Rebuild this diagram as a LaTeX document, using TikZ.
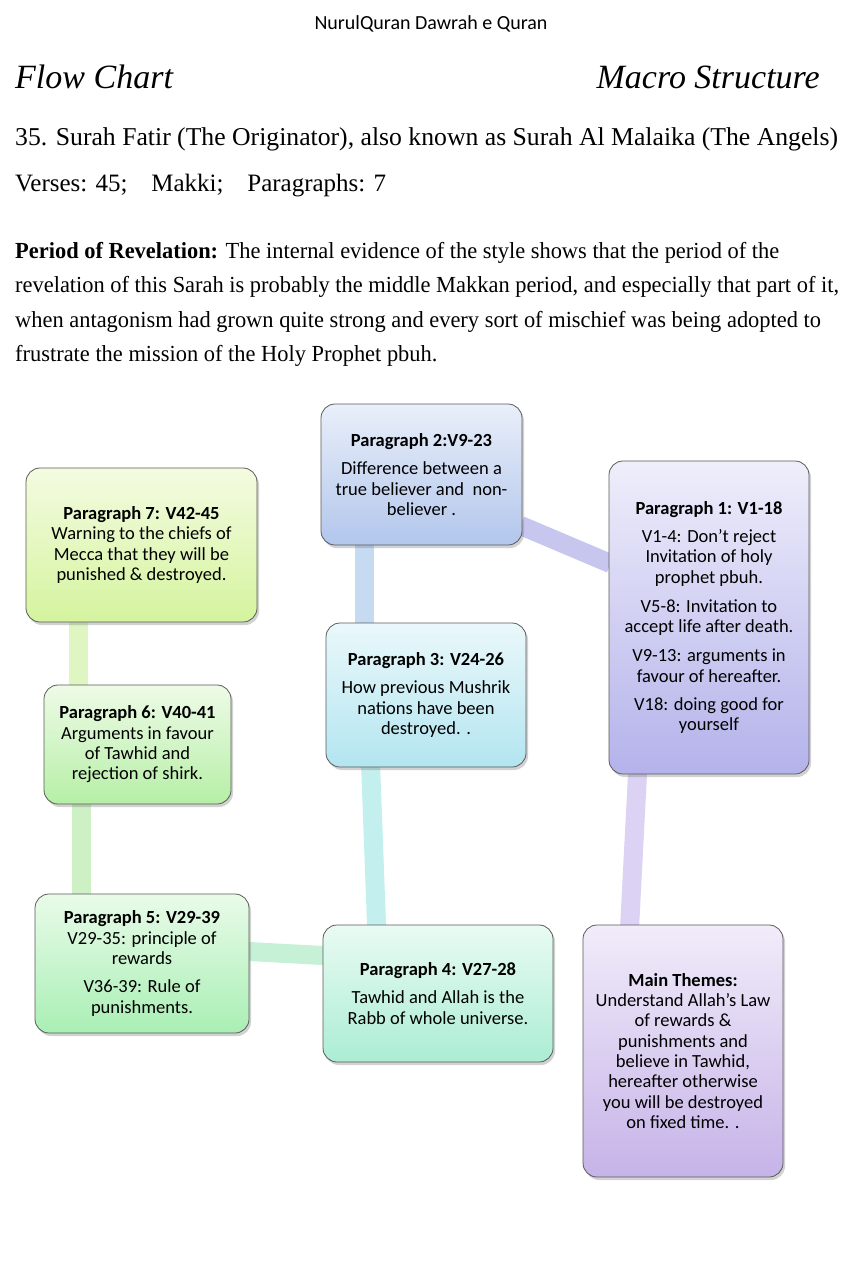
\documentclass[tikz,border=0pt]{standalone}
\usepackage{fontspec}
\setmainfont{Liberation Serif}
\newfontfamily\boxfont{Carlito}
\newfontfamily\headfont{Carlito}
\newfontfamily\bodyfont[FakeStretch=0.975]{Liberation Serif}
\usetikzlibrary{shadows,calc,backgrounds}
\pgfdeclarelayer{paper}
\pgfsetlayers{paper,background,main}
\definecolor{bordc}{HTML}{5A5A5A}
\definecolor{cAtop}{HTML}{EEEEFB}\definecolor{cAbot}{HTML}{B4B2EA}
\definecolor{cBtop}{HTML}{E9EFFA}\definecolor{cBbot}{HTML}{B2C6EC}
\definecolor{cCtop}{HTML}{EAF8FB}\definecolor{cCbot}{HTML}{B3E5F0}
\definecolor{cDtop}{HTML}{E9FBF3}\definecolor{cDbot}{HTML}{ABEDD4}
\definecolor{cEtop}{HTML}{E9FBE9}\definecolor{cEbot}{HTML}{A9EFB4}
\definecolor{cFtop}{HTML}{EEFBE7}\definecolor{cFbot}{HTML}{B6EFA6}
\definecolor{cGtop}{HTML}{F4FBE1}\definecolor{cGbot}{HTML}{D4F49E}
\definecolor{cMtop}{HTML}{F1ECFA}\definecolor{cMbot}{HTML}{C6B3E8}
\definecolor{lAB}{HTML}{C6C6EF}
\definecolor{lBC}{HTML}{C6DAF2}
\definecolor{lCD}{HTML}{C3F0EE}
\definecolor{lDE}{HTML}{C6F1D6}
\definecolor{lEF}{HTML}{CDF1C4}
\definecolor{lFG}{HTML}{DFF5C2}
\definecolor{lAM}{HTML}{DCD2F3}
\tikzset{
  pbox/.style={draw=bordc, line width=0.8pt, rounded corners=14pt,
    drop shadow={shadow xshift=2pt, shadow yshift=-3pt, opacity=0.35},
    align=center, inner sep=0pt,
    font=\boxfont\fontsize{18.5}{20.3}\selectfont},
  link/.style={line width=19pt, line cap=butt},
  hdr/.style={anchor=base west, inner sep=0pt}
}
\begin{document}
\begin{tikzpicture}[x=1pt,y=-1pt]
\useasboundingbox (0,0) rectangle (862,1262);
\begin{pgfonlayer}{paper}
\fill[white] (0,0) rectangle (862,1262);
\end{pgfonlayer}

% header texts
\node[anchor=base, inner sep=0pt, font=\headfont\fontsize{20}{24}\selectfont] (top) at (431,29) {NurulQuran Dawrah e Quran};
\node[hdr, font=\itshape\fontsize{34}{40}\selectfont] (fc) at (15,88) {Flow Chart};
\node[anchor=base east, inner sep=0pt, font=\itshape\fontsize{34}{40}\selectfont] (ms) at (820,88) {Macro Structure};
\node[hdr, font=\fontsize{25.7}{30}\selectfont] (title) at (15,145) {35. Surah Fatir (The Originator), also known as Surah Al Malaika (The Angels)};
\node[hdr, font=\fontsize{25}{30}\selectfont] (verses) at (15,191) {Verses: 45;\hspace{0.95em}Makki;\hspace{0.95em}Paragraphs: 7};
\node[hdr, font=\bodyfont\fontsize{23}{35}\selectfont] (l1) at (15,258) {\textbf{Period of Revelation:} The internal evidence of the style shows that the period of the};
\node[hdr, font=\bodyfont\fontsize{23}{35}\selectfont] (l2) at (15,292) {revelation of this Sarah is probably the middle Makkan period, and especially that part of it,};
\node[hdr, font=\bodyfont\fontsize{23}{35}\selectfont] (l3) at (15,327) {when antagonism had grown quite strong and every sort of mischief was being adopted to};
\node[hdr, font=\bodyfont\fontsize{23}{35}\selectfont] (l4) at (15,361) {frustrate the mission of the Holy Prophet pbuh.};

% boxes
\node[pbox, minimum width=201pt, minimum height=141pt, top color=cBtop, bottom color=cBbot] (p2) at (421.5,474.5)
  {\textbf{Paragraph 2:V9-23}\\[8pt] Difference between a\\ true believer and\ \ non-\\ believer .};
\node[pbox, minimum width=200pt, minimum height=313pt, top color=cAtop, bottom color=cAbot] (p1) at (709,617.5)
  {\textbf{Paragraph 1: V1-18}\\[8pt] V1-4: Don’t reject\\ Invitation of holy\\ prophet pbuh.\\[9pt]
   V5-8: Invitation to\\ accept life after death.\\[9pt] V9-13: arguments in\\ favour of hereafter.\\[8pt]
   V18: doing good for\\ yourself};
\node[pbox, minimum width=231pt, minimum height=154pt, top color=cGtop, bottom color=cGbot] (p7) at (141.5,545)
  {\textbf{Paragraph 7: V42-45}\\ Warning to the chiefs of\\ Mecca that they will be\\ punished \& destroyed.};
\node[pbox, minimum width=187pt, minimum height=119pt, top color=cFtop, bottom color=cFbot] (p6) at (137.5,744.5)
  {\textbf{Paragraph 6: V40-41}\\ Arguments in favour\\ of Tawhid and\\ rejection of shirk.};
\node[pbox, minimum width=200pt, minimum height=144pt, top color=cCtop, bottom color=cCbot] (p3) at (426,695)
  {\textbf{Paragraph 3: V24-26}\\[8pt] How previous Mushrik\\ nations have been\\ destroyed. .};
\node[pbox, minimum width=214pt, minimum height=139pt, top color=cEtop, bottom color=cEbot] (p5) at (142,963.5)
  {\textbf{Paragraph 5: V29-39}\\ V29-35: principle of\\ rewards\\[8pt] V36-39: Rule of\\ punishments.};
\node[pbox, minimum width=230pt, minimum height=137pt, top color=cDtop, bottom color=cDbot] (p4) at (438,993.5)
  {\textbf{Paragraph 4: V27-28}\\[8pt] Tawhid and Allah is the\\ Rabb of whole universe.};
\node[pbox, minimum width=200pt, minimum height=252pt, top color=cMtop, bottom color=cMbot] (mt) at (683,1051)
  {\textbf{Main Themes:}\\ Understand Allah’s Law\\ of rewards \&\\ punishments and\\ believe in Tawhid,\\ hereafter otherwise\\ you will be destroyed\\ on fixed time. .};

% connectors
\begin{pgfonlayer}{background}
\draw[link, lAB] ($(p2.south east)+(-2,-20)$) -- ($(p1.north west)+(2,103)$);
\draw[link, lBC] ($(p2.south west)+(44,-2)$) -- ($(p3.north west)+(39,2)$);
\draw[link, lCD] ($(p3.south west)+(45,-2)$) -- ($(p4.north west)+(54,2)$);
\draw[link, lDE] ($(p5.south east)+(-2,-82)$) -- ($(p4.north west)+(2,31)$);
\draw[link, lEF] ($(p6.south west)+(38,-2)$) -- ($(p5.north west)+(47,2)$);
\draw[link, lFG] ($(p7.south west)+(53,-2)$) -- ($(p6.north west)+(35,2)$);
\draw[link, lAM] ($(p1.south west)+(29,-2)$) -- ($(mt.north west)+(47,2)$);
\end{pgfonlayer}
\end{tikzpicture}
\end{document}
